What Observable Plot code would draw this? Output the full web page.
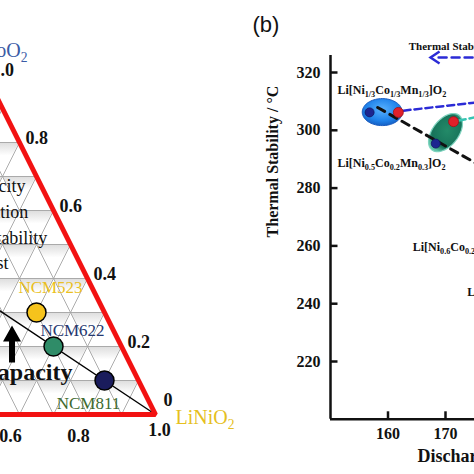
<!DOCTYPE html>
<html>
<head>
<meta charset="utf-8">
<script src="https://cdn.jsdelivr.net/npm/d3@7"></script>
<script src="https://cdn.jsdelivr.net/npm/@observablehq/plot@0.6"></script>
<style>
html,body{margin:0;padding:0;background:#fff;}
#wrap{position:relative;width:474px;height:474px;overflow:hidden;background:#fff;}
#left,#right{position:absolute;top:0;height:474px;overflow:hidden;}
#left{left:0;width:237px;}
#right{left:237px;width:237px;}
</style>
</head>
<body>
<div id="wrap"><div id="left"></div><div id="right"></div></div>
<script>
// ================= data : panel (a) ternary diagram =================
const ternaryTicks = [0.1, 0.2, 0.3, 0.4, 0.5, 0.6, 0.7, 0.8, 0.9];
const coTickValues = [1.0, 0.8, 0.6, 0.4, 0.2];
const coTickLabels = ["1.0", "0.8", "0.6", "0.4", "0.2"];
const niTickValues = [0.6, 0.8];
const niTickLabels = ["0.6", "0.8"];
const compounds = ["NCM523", "NCM622", "NCM811"];
const compoundNi = [0.5, 0.6, 0.8];
const compoundCo = [0.3, 0.2, 0.1];
const compoundFill = ["#f6c31c", "#2f8c68", "#1a1c5c"];
const compoundTextColor = ["#eabf22", "#26386f", "#3e6a2e"];
const noteLines = ["Capacity", "Retention", "Thermal Stability", "Cost"];
const capacityNote = "Capacity";
const endMembers = ["LiCoO_{2}", "LiNiO_{2}"];

// ================= data : panel (b) =================
const yTicks = [220, 240, 260, 280, 300, 320];
const xTicks = [160, 170];
const materials = [
  "Li[Ni_{1/3}Co_{1/3}Mn_{1/3}]O_{2}",
  "Li[Ni_{0.5}Co_{0.2}Mn_{0.3}]O_{2}",
  "Li[Ni_{0.6}Co_{0.2}Mn_{0.2}]O_{2}",
  "Li[Ni_{0.8}Co_{0.1}Mn_{0.1}]O_{2}"
];
const thermCapacity = [156.8, 168.3];   // navy points: discharge capacity
const thermStability = [306.2, 295.4];  // navy points: thermal stability (°C)
const retCapacity = [161.8, 171.4];     // red points
const retValue = [306.2, 303.0];
const ellipseCenterX = [159.0, 170.0];
const ellipseCenterY = [306.3, 299.2];
const trendBlackX = [158.2, 176.0];
const trendBlackY = [307.9, 287.8];
const trendBlueX = [162.7, 176.0];
const trendBlueY = [306.8, 309.8];
const trendTealX = [172.3, 176.0];
const trendTealY = [303.4, 304.8];
const xTitle = "Discharge Capacity / mAh g^{-1}";
const yTitle = "Thermal Stability / °C";
const topNote = "Thermal Stability";
const panelTag = "(b)";

// ================= helpers =================
const serif = "'Liberation Serif','Times New Roman',Times,serif";
const S = 340;                          // px per composition unit (panel a)
const cart = (ni, co) => ({X: ni + co / 2, Y: co});

function polySymbol(pts, closed = true) {
  return {draw(ctx, size) {
    const k = Math.sqrt(size / Math.PI);
    ctx.moveTo(pts[0][0] * k, pts[0][1] * k);
    for (let i = 1; i < pts.length; i++) ctx.lineTo(pts[i][0] * k, pts[i][1] * k);
    if (closed) ctx.closePath();
  }};
}
function ellipseSymbol(rx, ry, deg) {
  const a = deg * Math.PI / 180, n = 72;
  const pts = d3.range(n).map(i => {
    const t = 2 * Math.PI * i / n, x = rx * Math.cos(t), y = ry * Math.sin(t);
    return [x * Math.cos(a) - y * Math.sin(a), x * Math.sin(a) + y * Math.cos(a)];
  });
  return polySymbol(pts, true);
}
function richText(svg) {
  svg.querySelectorAll("text").forEach(t => {
    const s = t.textContent;
    if (!/[_^]\{/.test(s)) return;
    const fs = parseFloat(getComputedStyle(t).fontSize) || 12;
    const re = /([_^])\{([^}]*)\}/g;
    let last = 0, m, parts = [];
    while ((m = re.exec(s))) {
      if (m.index > last) parts.push({t: s.slice(last, m.index), k: 0});
      parts.push({t: m[2], k: m[1] === "_" ? 1 : -1});
      last = re.lastIndex;
    }
    if (last < s.length) parts.push({t: s.slice(last), k: 0});
    while (t.firstChild) t.removeChild(t.firstChild);
    let shift = 0;
    parts.forEach(p => {
      const ts = document.createElementNS("http://www.w3.org/2000/svg", "tspan");
      const target = p.k === 1 ? 0.25 * fs : p.k === -1 ? -0.38 * fs : 0;
      if (target !== shift) ts.setAttribute("dy", target - shift);
      shift = target;
      if (p.k) ts.setAttribute("font-size", (0.68 * fs).toFixed(1));
      ts.textContent = p.t;
      t.appendChild(ts);
    });
  });
}

// ================= panel (a) =================
const gridLinks = ternaryTicks.flatMap(t => [
  {a: cart(0, t), b: cart(1 - t, t)},
  {a: cart(t, 0), b: cart(t, 1 - t)},
  {a: cart(1 - t, 0), b: cart(0, 1 - t)}
]);
const shade = [];
for (let a = 0; a <= 8; a++) for (let b = 0; a + b <= 8; b++) {
  const id = a * 10 + b, top = (b + 1) / 10;
  const tl = cart(a / 10, (b + 1) / 10).X, tr = cart((a + 1) / 10, (b + 1) / 10).X, ap = cart((a + 1) / 10, b / 10);
  shade.push({id, x: tl, y1: top, y2: top}, {id, x: ap.X, y1: top, y2: ap.Y}, {id, x: tr, y1: top, y2: top});
}
const border = [cart(0, 0), cart(1, 0), cart(0, 1), cart(0, 0)];
const comp = compounds.map((name, i) => ({name, ...cart(compoundNi[i], compoundCo[i]), fill: compoundFill[i], tc: compoundTextColor[i]}));
const compOffsets = [[14, -25], [19, -16], [-16, 23]];
comp.forEach((d, i) => { d.lx = d.X + compOffsets[i][0] / S; d.ly = d.Y - compOffsets[i][1] / S; });
const noteAnchors = [[0.618, 0.671], [0.626, 0.594], [0.682, 0.518], [0.568, 0.444]];
const notes = noteLines.map((t, i) => ({t, X: noteAnchors[i][0], Y: noteAnchors[i][1]}));
const upArrow = polySymbol([[0, -18], [9, -2], [3, -2], [3, 19], [-3, 19], [-3, -2], [-9, -2]]);
const apex = cart(0, 1), niCorner = cart(1, 0);
const tickFont = {fontFamily: serif, fontWeight: "bold", fontSize: 18, fill: "#111"};

const left = Plot.plot({
  width: 237, height: 474, margin: 0,
  x: {domain: [185 / S, 422 / S], axis: null},
  y: {domain: [-60 / S, 414 / S], axis: null},
  color: {type: "identity"},
  style: {background: "transparent", fontFamily: serif, overflow: "hidden"},
  marks: [
    Plot.areaY(shade, {x: "x", y1: "y1", y2: "y2", z: "id", fill: "url(#triShade)"}),
    Plot.link(gridLinks, {x1: d => d.a.X, y1: d => d.a.Y, x2: d => d.b.X, y2: d => d.b.Y, stroke: "#a4a4a4", strokeWidth: 0.9}),
    Plot.text(notes, {x: "X", y: "Y", text: "t", textAnchor: "end", fontFamily: serif, fontSize: 18, fill: "#111"}),
    Plot.line([cart(1, 0), cart(0, 0.5)], {x: "X", y: "Y", stroke: "#000", strokeWidth: 1.4}),
    Plot.line(border, {x: "X", y: "Y", stroke: "#f21212", strokeWidth: 5, strokeLinejoin: "miter"}),
    Plot.dot(comp, {x: "X", y: "Y", r: 9.5, fill: "fill", stroke: "#000", strokeWidth: 1.5}),
    Plot.text(comp, {x: "lx", y: "ly", text: "name", fill: "tc", fontFamily: serif, fontSize: 17}),
    Plot.text([capacityNote], {x: () => 0.756, y: () => 0.1235, textAnchor: "end", fontFamily: serif, fontWeight: "bold", fontSize: 24, fill: "#111"}),
    Plot.dot([0], {x: () => 0.578, y: () => 0.209, symbol: upArrow, r: 1, fill: "#000", stroke: "none"}),
    Plot.text(coTickValues, {x: v => cart(1 - v, v).X, y: v => v, text: (v, i) => coTickLabels[i], textAnchor: "start", dx: 6, dy: -4, ...tickFont}),
    Plot.text(["0"], {x: () => niCorner.X, y: () => niCorner.Y, textAnchor: "start", dx: 8, dy: -14, ...tickFont}),
    Plot.text(niTickValues, {x: v => cart(v, 0).X, y: () => 0, text: (v, i) => niTickLabels[i], dx: -9, dy: 22, ...tickFont}),
    Plot.text(["1.0"], {x: () => niCorner.X, y: () => niCorner.Y, dx: 4, dy: 16, ...tickFont}),
    Plot.text([endMembers[0]], {x: () => apex.X, y: () => apex.Y, textAnchor: "end", dx: 42, dy: -24, fontFamily: serif, fontSize: 20, fill: "#3a5ba6"}),
    Plot.text([endMembers[1]], {x: () => niCorner.X, y: () => niCorner.Y, textAnchor: "start", dx: 20, dy: 3, fontFamily: serif, fontSize: 20, fill: "#e6bf1e"})
  ]
});
{
  const defs = d3.select(left).insert("defs", ":first-child");
  const g = defs.append("linearGradient").attr("id", "triShade").attr("x1", 0).attr("y1", 0).attr("x2", 0).attr("y2", 1);
  g.append("stop").attr("offset", "0%").attr("stop-color", "#dcdcdc");
  g.append("stop").attr("offset", "40%").attr("stop-color", "#ffffff");
}
document.getElementById("left").appendChild(left);
richText(left);

// ================= panel (b) =================
const xDomain = [150, 150 + 144 / 5.75];
const yDomain = [200, 200 + (418.8 - 55) / 2.89];
const tickRight = polySymbol([[0, 0], [7, 0]], false);
const tickUp = polySymbol([[0, 0], [0, -8]], false);
const chevron = polySymbol([[9, -6], [0, 0], [9, 6]], false);
const navy = thermCapacity.map((x, i) => ({x, y: thermStability[i]}));
const red = retCapacity.map((x, i) => ({x, y: retValue[i]}));
const line2 = (xs, ys) => xs.map((x, i) => ({x, y: ys[i]}));
const labelAnchors = [[151.2, 313.8], [151.2, 288.5], [164.3, 259.4], [173.8, 243.9]];
const matLabels = materials.map((t, i) => ({t, x: labelAnchors[i][0], y: labelAnchors[i][1]}));
const boldSerif = {fontFamily: serif, fontWeight: "bold", fill: "#111"};

const right = Plot.plot({
  width: 237, height: 474,
  marginLeft: 93, marginRight: 0, marginTop: 55, marginBottom: 474 - 418.8,
  x: {domain: xDomain, label: null},
  y: {domain: yDomain, label: null},
  color: {type: "identity"},
  style: {background: "transparent", fontFamily: serif, overflow: "hidden"},
  marks: [
    Plot.ruleX([xDomain[0]], {y1: () => yDomain[0], y2: () => yDomain[1], stroke: "#111", strokeWidth: 2.5}),
    Plot.ruleY([yDomain[0]], {x1: () => xDomain[0], x2: () => xDomain[1] + 5, stroke: "#111", strokeWidth: 2.5}),
    Plot.dot(yTicks, {x: () => xDomain[0], y: d => d, symbol: tickRight, r: 1, fill: "none", stroke: "#111", strokeWidth: 2.5}),
    Plot.dot(xTicks, {x: d => d, y: () => yDomain[0], symbol: tickUp, r: 1, fill: "none", stroke: "#111", strokeWidth: 2.5}),
    Plot.axisY(yTicks, {tickSize: 0, tickPadding: 10, fontSize: 16, ...boldSerif, label: null}),
    Plot.axisX(xTicks, {tickSize: 0, tickPadding: 8, fontSize: 16, ...boldSerif, label: null}),
    Plot.text([yTitle], {frameAnchor: "left", rotate: -90, dx: -58, fontSize: 16, ...boldSerif}),
    Plot.text([xTitle], {frameAnchor: "bottom-left", textAnchor: "start", dx: 87, dy: 43, fontSize: 18, ...boldSerif}),
    Plot.text([panelTag], {frameAnchor: "top-left", textAnchor: "start", dx: -78, dy: -39, fontSize: 22, fontFamily: "'Liberation Sans',Arial,sans-serif", fill: "#111"}),
    Plot.text([topNote], {x: () => 163.6, y: () => 329.0, textAnchor: "start", fontSize: 11, ...boldSerif}),
    Plot.line(line2([168.8, 176], [325.2, 325.2]), {x: "x", y: "y", stroke: "#2b2bd6", strokeWidth: 2.5, strokeDasharray: "8,5"}),
    Plot.dot([0], {x: () => 167.4, y: () => 325.2, symbol: chevron, r: 1, fill: "none", stroke: "#2b2bd6", strokeWidth: 2.5}),
    Plot.dot([0], {x: () => ellipseCenterX[0], y: () => ellipseCenterY[0], symbol: ellipseSymbol(20, 13.5, 0), r: 1, fill: "url(#blueEll)", stroke: "#1a5cc0", strokeWidth: 1}),
    Plot.dot([0], {x: () => ellipseCenterX[1], y: () => ellipseCenterY[1], symbol: ellipseSymbol(22, 13, -52), r: 1, fill: "url(#greenEll)", stroke: "#7fd3bf", strokeWidth: 1.2}),
    Plot.line(line2(trendBlackX, trendBlackY), {x: "x", y: "y", stroke: "#111", strokeWidth: 3, strokeDasharray: "8,6"}),
    Plot.line(line2(trendBlueX, trendBlueY), {x: "x", y: "y", stroke: "#2b2bd6", strokeWidth: 2.5, strokeDasharray: "7,4"}),
    Plot.line(line2(trendTealX, trendTealY), {x: "x", y: "y", stroke: "#36c4b2", strokeWidth: 2.5, strokeDasharray: "7,4"}),
    Plot.dot(navy, {x: "x", y: "y", r: 4.5, fill: "#1c2590", stroke: "#101560", strokeWidth: 0.8}),
    Plot.dot(red, {x: "x", y: "y", r: 5, fill: "#e0202a", stroke: "#a01018", strokeWidth: 0.8}),
    Plot.text(matLabels, {x: "x", y: "y", text: "t", textAnchor: "start", fontSize: 12, ...boldSerif})
  ]
});
{
  const defs = d3.select(right).insert("defs", ":first-child");
  const b = defs.append("radialGradient").attr("id", "blueEll").attr("cx", "50%").attr("cy", "40%").attr("r", "60%");
  b.append("stop").attr("offset", "0%").attr("stop-color", "#58b2ff");
  b.append("stop").attr("offset", "70%").attr("stop-color", "#1f82ea");
  b.append("stop").attr("offset", "100%").attr("stop-color", "#1560c4");
  const g = defs.append("radialGradient").attr("id", "greenEll").attr("cx", "55%").attr("cy", "45%").attr("r", "60%");
  g.append("stop").attr("offset", "0%").attr("stop-color", "#238a68");
  g.append("stop").attr("offset", "75%").attr("stop-color", "#17735a");
  g.append("stop").attr("offset", "100%").attr("stop-color", "#5cc2a6");
}
document.getElementById("right").appendChild(right);
richText(right);
</script>
</body>
</html>
